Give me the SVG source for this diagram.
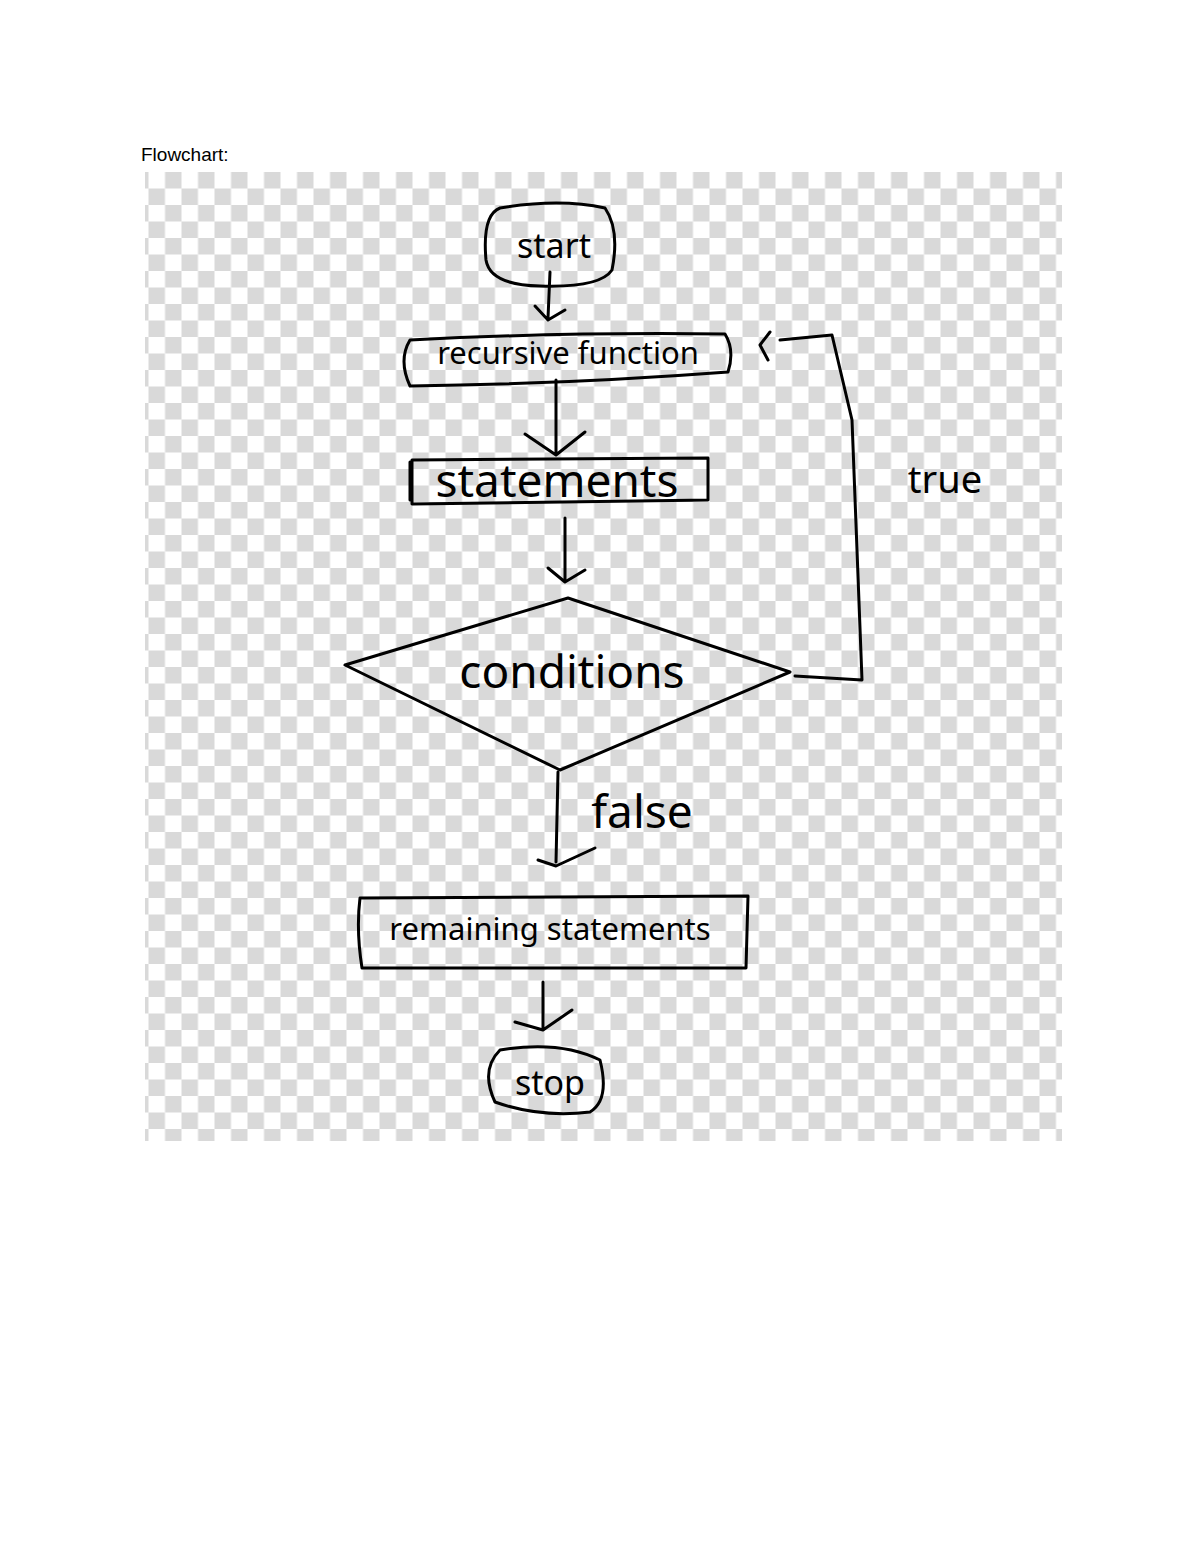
<svg xmlns="http://www.w3.org/2000/svg" width="1200" height="1553" viewBox="0 0 1200 1553">
<style>
.s{fill:none;stroke:#000;stroke-width:3;stroke-linecap:round;stroke-linejoin:round}
.t{font-family:"Noto Sans","Open Sans",sans-serif;fill:#000}
</style>
<defs>
<pattern id="ck" x="148.5" y="172" width="33" height="33" patternUnits="userSpaceOnUse">
<rect width="33" height="33" fill="#fff"/>
<rect x="16.5" y="0" width="16.5" height="16.5" fill="#d9d9d9"/>
<rect x="0" y="16.5" width="16.5" height="16.5" fill="#d9d9d9"/>
</pattern>
</defs>
<rect width="1200" height="1553" fill="#fff"/>
<text x="141" y="161" font-family="Liberation Sans,Arial,sans-serif" font-size="19">Flowchart:</text>
<rect x="145" y="172" width="917" height="969" fill="url(#ck)"/>
<g id="start"><path class="s" d="M500 208 Q560 198 605 208 Q620 230 612 270 Q600 288 540 286 Q490 285 486 260 Q482 215 500 208 Z"/><text class="t" x="554" y="258" font-size="34" text-anchor="middle">start</text></g>
<g id="recursive"><path class="s" d="M410 340 Q560 332 725 334 Q735 350 728 372 Q570 384 410 386 Q398 360 410 340 Z"/><text class="t" x="568" y="364" font-size="31" text-anchor="middle">recursive function</text></g>
<g id="statements"><path class="s" d="M412 460 L708 458 L708 500 L412 504 Z M410 462 L410 500"/><text class="t" x="557" y="497" font-size="46" text-anchor="middle">statements</text></g>
<g id="conditions"><path class="s" d="M345 665 L568 598 L790 672 L560 770 Z"/><text class="t" x="572" y="688" font-size="46" text-anchor="middle">conditions</text></g>
<g id="remaining"><path class="s" d="M360 898 L748 896 L746 968 L362 968 Q356 930 360 898 Z"/><text class="t" x="550" y="940" font-size="31" text-anchor="middle">remaining statements</text></g>
<g id="stop"><path class="s" d="M500 1050 Q560 1040 600 1060 Q610 1100 590 1112 Q540 1118 495 1102 Q480 1070 500 1050 Z"/><text class="t" x="550" y="1095" font-size="34" text-anchor="middle">stop</text></g>
<g id="labels"><text class="t" x="945" y="493" font-size="38" text-anchor="middle">true</text><text class="t" x="642" y="828" font-size="46" text-anchor="middle">false</text></g>
<g id="connectors">
<path class="s" d="M550 272 L548 318 M535 306 L548 320 L565 310"/>
<path class="s" d="M556 380 L556 452 M525 434 L556 455 L585 432"/>
<path class="s" d="M565 518 L565 580 M548 568 L565 582 L585 570"/>
<path class="s" d="M558 772 L556 862 M538 860 L556 866 L595 848"/>
<path class="s" d="M543 982 L543 1028 M515 1022 L543 1030 L572 1010"/>
<path class="s" d="M795 676 L862 680 L852 420 L832 335 L780 340 M770 332 L760 345 L768 360"/>
</g>
</svg>
